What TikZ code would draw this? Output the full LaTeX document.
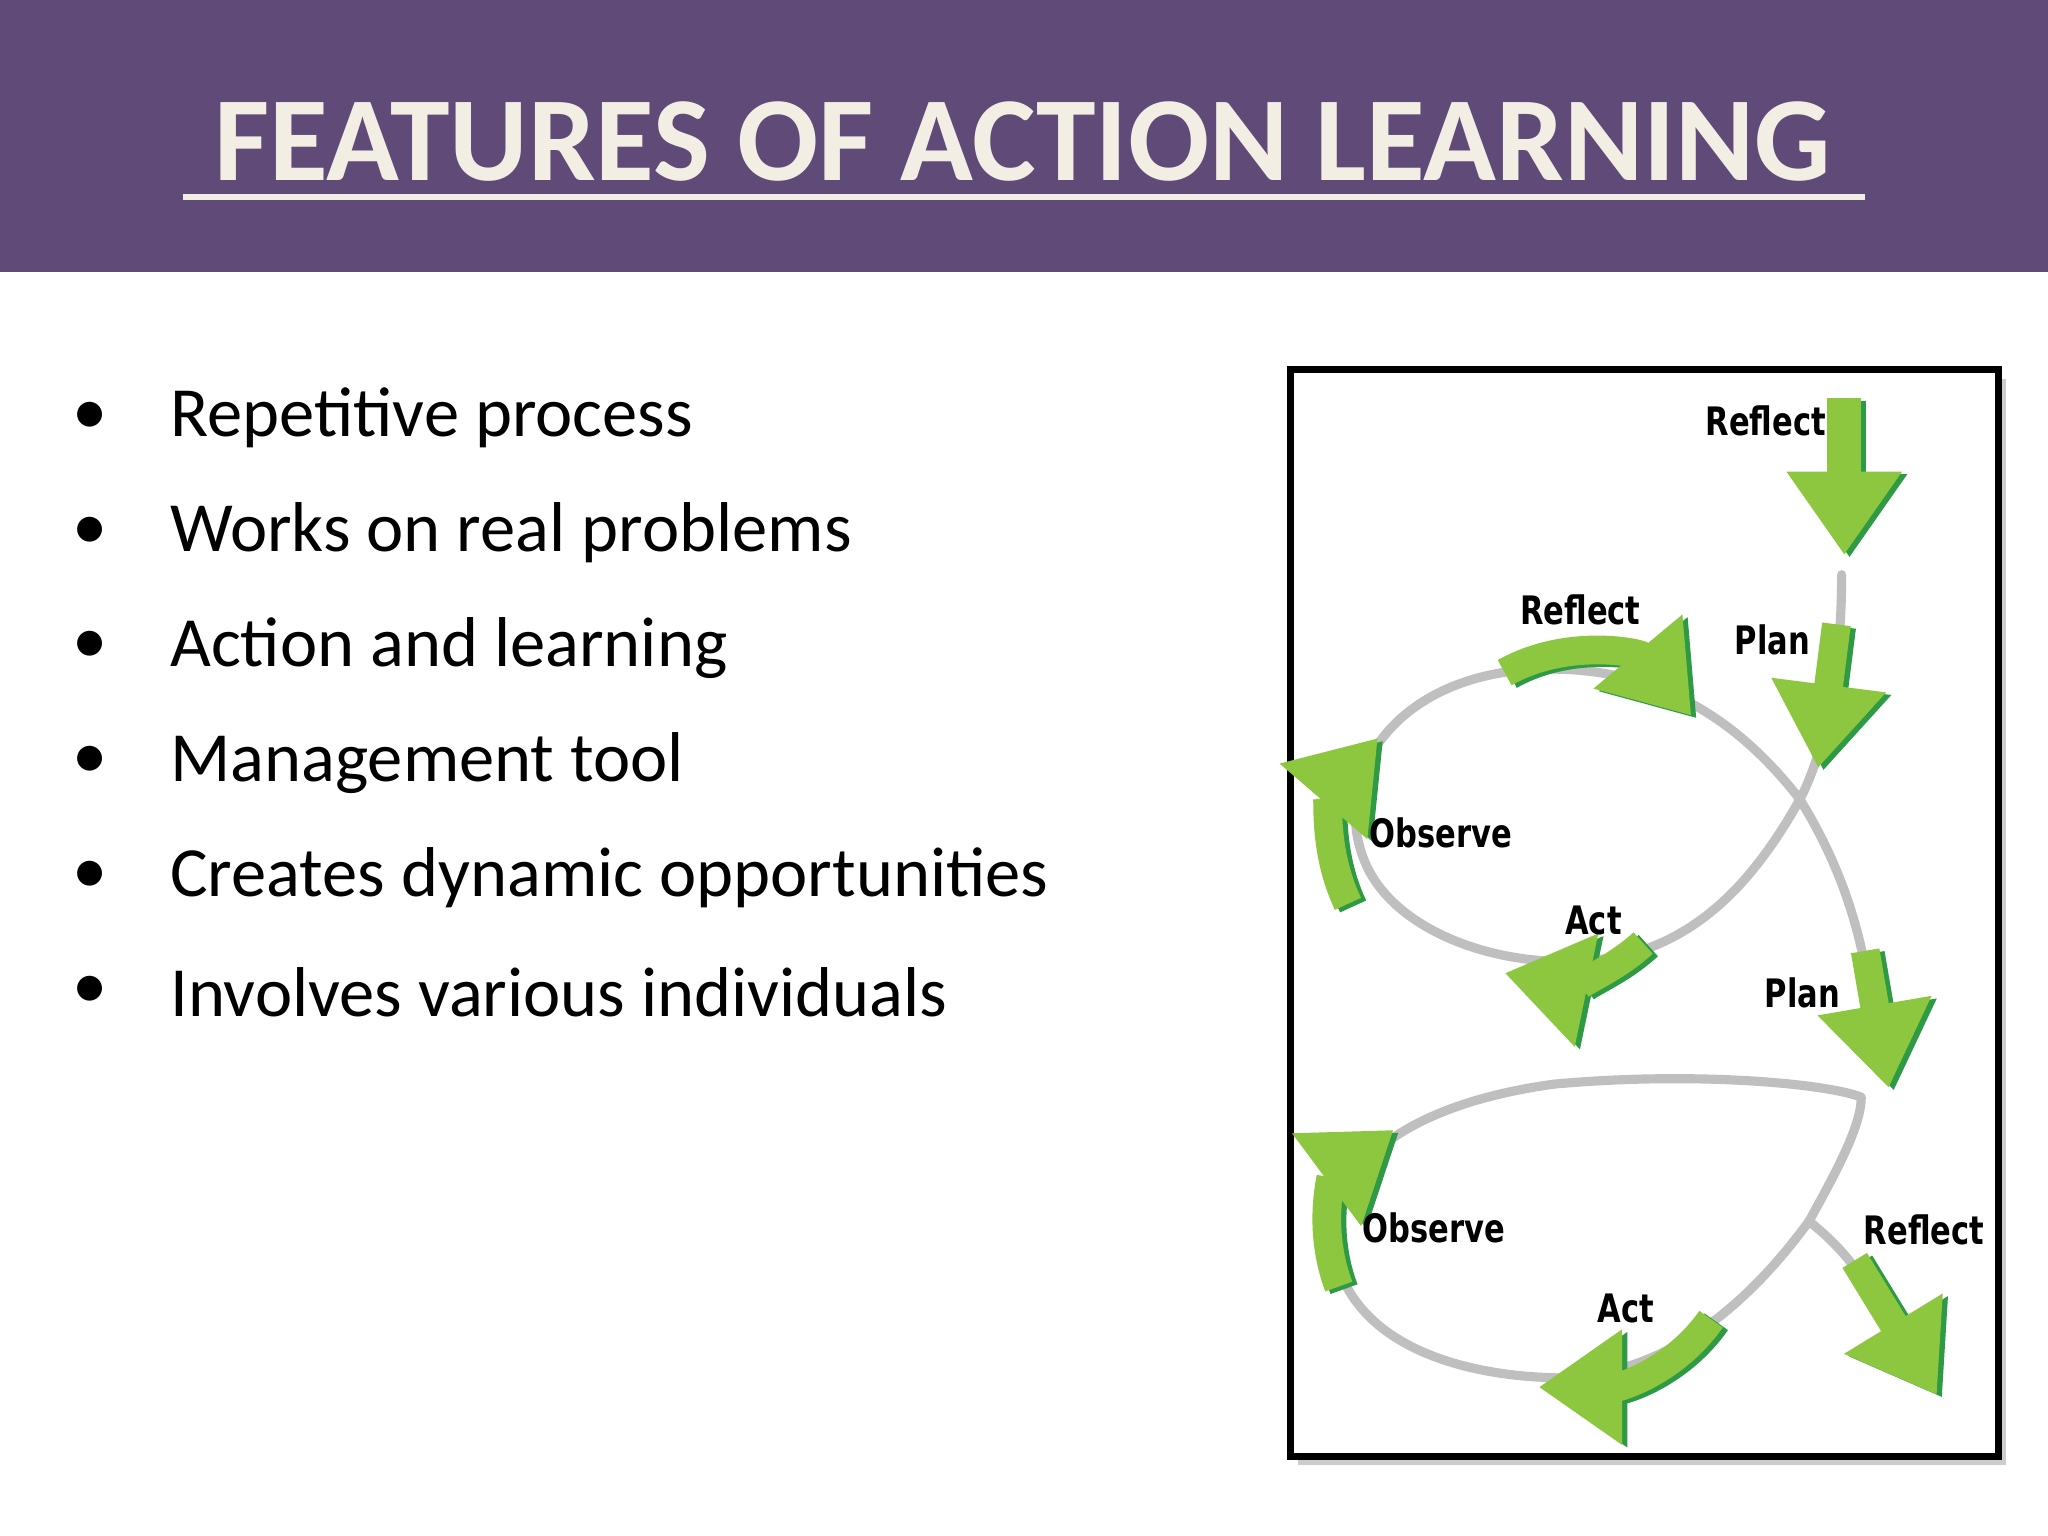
\documentclass[tikz,border=0pt]{standalone}
\usepackage{fontspec}
\setmainfont{Carlito}
\newfontfamily\lab{DejaVu Sans}
\usetikzlibrary{arrows.meta}
\definecolor{purp}{HTML}{5F4A78}
\definecolor{cream}{HTML}{F2EEE3}
\definecolor{lg}{HTML}{8DC63F}
\definecolor{dg}{HTML}{2E9A45}
\tikzset{
 bul/.style={anchor=west,font=\fontsize{27}{30}\selectfont,inner sep=0},
 lbl/.style={font=\lab\bfseries\fontsize{15}{15}\selectfont,xscale=0.78,inner sep=0},
 garr/.style={line width=#1, -{Triangle[width=42pt,length=32pt]}},
 loop/.style={line width=3.5pt,color=black!25,line cap=round},
}
\newcommand{\greenarrow}[2][11pt]{%
 \begin{scope}[shift={(4,2)}]\draw[garr=#1,dg] #2;\end{scope}
 \draw[garr=#1,lg] #2;}
\begin{document}
\begin{tikzpicture}[x=0.5pt,y=-0.5pt]
\useasboundingbox (0,0) rectangle (1568,1176);
\fill[purp] (0,0) rectangle (1568,208);
\node[font=\bfseries\fontsize{46}{50}\selectfont,text=cream] (title) at (783,108) {FEATURES OF ACTION LEARNING};
\draw[cream,line width=2.5pt] (140,151) -- (1428,151);
\foreach \t [count=\i] in {Repetitive process,Works on real problems,Action and learning,Management tool,Creates dynamic opportunities,Involves various individuals}{
 \node[bul] (b\i) at (55,{232+88*\i}) {\textbullet};
 \node[bul] (t\i) at (130,{232+88*\i}) {\t};
}
\fill[black!20] (994,290) rectangle (1536,1122);
\draw[line width=2.5pt,fill=white] (988,283) rectangle (1530,1115);
% gray loops
\draw[loop] (1410,440) .. controls (1410,520) and (1395,580) .. (1378,612)
  .. controls (1340,680) and (1300,715) .. (1250,730)
  .. controls (1170,750) and (1070,720) .. (1045,660)
  .. controls (1020,600) and (1060,530) .. (1150,515)
  .. controls (1260,500) and (1330,550) .. (1378,612)
  .. controls (1420,680) and (1430,740) .. (1435,790);
\draw[loop] (1425,840) .. controls (1400,830) and (1300,820) .. (1190,830)
  .. controls (1080,845) and (1020,890) .. (1020,950)
  .. controls (1030,1030) and (1120,1055) .. (1200,1055)
  .. controls (1270,1050) and (1330,1010) .. (1385,935)
  .. controls (1410,890) and (1425,860) .. (1425,840);
\draw[loop] (1385,935) .. controls (1410,955) and (1420,970) .. (1430,985);
% green arrows
\greenarrow[13pt]{(1412,305) -- (1412,425)}
\greenarrow[11pt]{(1406,478) -- (1392,588)}
\greenarrow{(1152,515) .. controls (1200,488) and (1255,500) .. (1295,548)}
\greenarrow{(1032,692) .. controls (1012,650) and (1018,608) .. (1055,565)}
\greenarrow{(1258,722) .. controls (1232,746) and (1200,755) .. (1152,745)}
\greenarrow[11pt]{(1428,728) -- (1446,833)}
\greenarrow{(1025,985) .. controls (1008,940) and (1020,900) .. (1067,865)}
\greenarrow{(1310,1010) .. controls (1282,1050) and (1240,1062) .. (1178,1062)}
\greenarrow[11pt]{(1420,965) -- (1483,1068)}
% labels
\node[lbl] (r1) at (1352,322) {Reflect};
\node[lbl] (r2) at (1210,467) {Reflect};
\node[lbl] (p1) at (1357,490) {Plan};
\node[lbl] (o1) at (1103,638) {Observe};
\node[lbl] (a1) at (1220,705) {Act};
\node[lbl] (p2) at (1380,760) {Plan};
\node[lbl] (o2) at (1098,940) {Observe};
\node[lbl] (a2) at (1245,1002) {Act};
\node[lbl] (r3) at (1473,942) {Reflect};
\end{tikzpicture}
\end{document}
